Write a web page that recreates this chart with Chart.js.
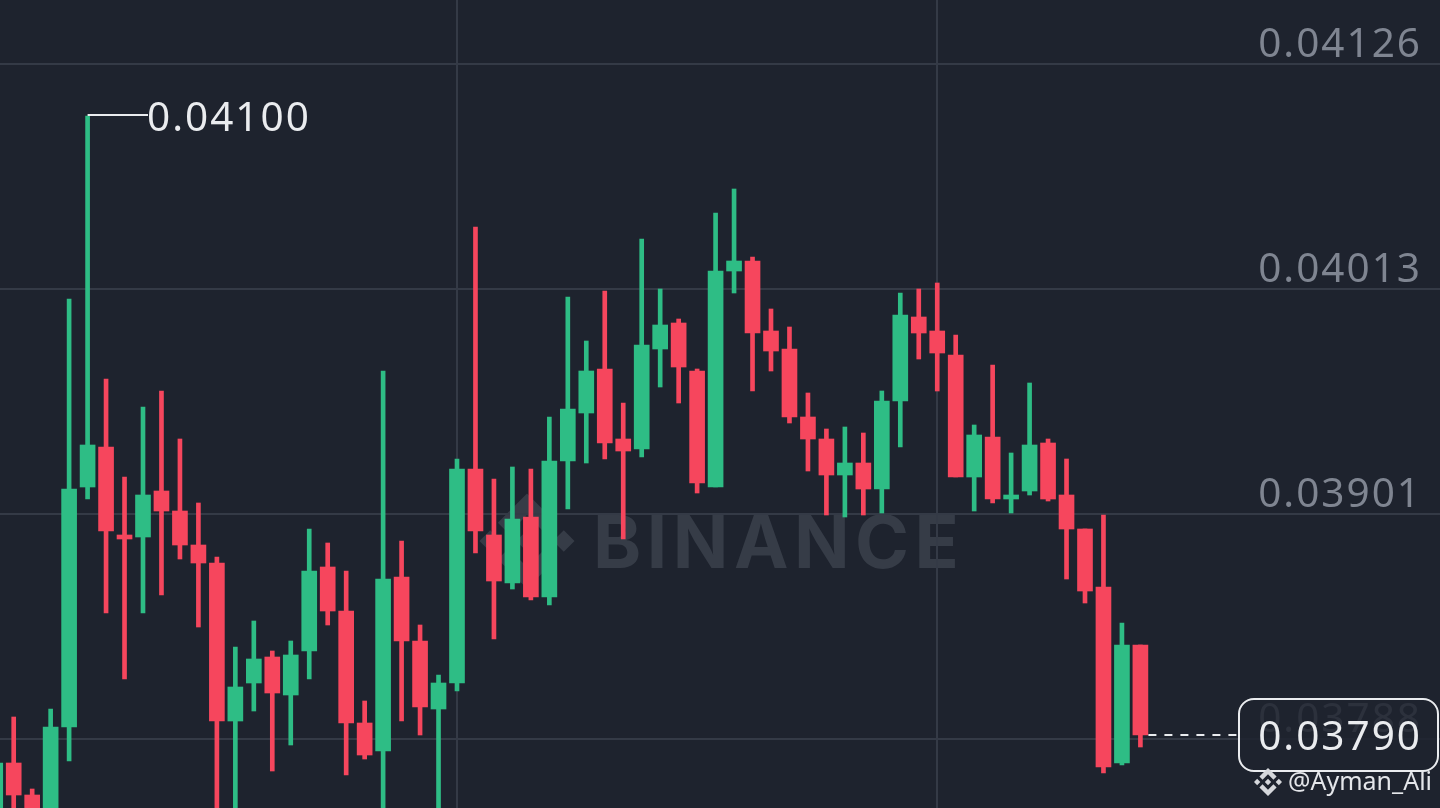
<!DOCTYPE html>
<html>
<head>
<meta charset="utf-8">
<title>Candles</title>
<script src="https://cdn.jsdelivr.net/npm/chart.js@4/dist/chart.umd.min.js"></script>
<style>
  html, body { margin: 0; padding: 0; background: #1e232e; overflow: hidden; }
  canvas { display: block; }
</style>
</head>
<body>
<canvas id="candles" width="1440" height="808"></canvas>
<script>
// candle values
const openPrices = [
  0.03743, 0.037765, 0.037605, 0.03743, 0.037945, 0.039145, 0.039345, 0.038905, 0.038895, 0.039125,
  0.039025, 0.038855, 0.038765, 0.037975, 0.038165, 0.038295, 0.038105, 0.038325, 0.038745, 0.038525,
  0.037965, 0.037825, 0.038695, 0.038375, 0.038035, 0.038165, 0.039235, 0.038905, 0.038665, 0.038995,
  0.038595, 0.039275, 0.039515, 0.039735, 0.039385, 0.039335, 0.039835, 0.039965, 0.039725, 0.039145,
  0.040225, 0.040275, 0.039925, 0.039835, 0.039495, 0.039385, 0.039205, 0.039265, 0.039135, 0.039575,
  0.039995, 0.039925, 0.039805, 0.039195, 0.039395, 0.039085, 0.039125, 0.039365, 0.039105, 0.038935,
  0.038645, 0.037765, 0.038355
];
const closePrices = [
  0.037765, 0.037605, 0.03743, 0.037945, 0.039135, 0.039355, 0.038925, 0.038885, 0.039105, 0.039025,
  0.038855, 0.038765, 0.037975, 0.038145, 0.038285, 0.038115, 0.038305, 0.038725, 0.038525, 0.037965,
  0.037805, 0.038685, 0.038375, 0.038045, 0.038165, 0.039235, 0.038925, 0.038675, 0.038985, 0.038595,
  0.039275, 0.039535, 0.039725, 0.039365, 0.039325, 0.039855, 0.039955, 0.039745, 0.039165, 0.040225,
  0.040275, 0.039915, 0.039825, 0.039495, 0.039385, 0.039205, 0.039265, 0.039135, 0.039575, 0.040005,
  0.039915, 0.039815, 0.039195, 0.039405, 0.039085, 0.039105, 0.039355, 0.039085, 0.038935, 0.038625,
  0.037745, 0.038355, 0.037905
];
const highPrices = [
  0.037855, 0.037995, 0.037635, 0.038035, 0.040085, 0.041, 0.039685, 0.039195, 0.039545, 0.039625,
  0.039385, 0.039065, 0.038795, 0.038345, 0.038475, 0.038325, 0.038375, 0.038935, 0.038865, 0.038725,
  0.038075, 0.039725, 0.038875, 0.038455, 0.038205, 0.039285, 0.040445, 0.039185, 0.039245, 0.039235,
  0.039495, 0.040095, 0.039875, 0.040125, 0.039565, 0.040385, 0.040135, 0.039985, 0.039735, 0.040515,
  0.040635, 0.040295, 0.040035, 0.039945, 0.039615, 0.039435, 0.039445, 0.039415, 0.039625, 0.040115,
  0.040135, 0.040165, 0.039905, 0.039455, 0.039755, 0.039315, 0.039665, 0.039385, 0.039285, 0.038935,
  0.039005, 0.038465, 0.038355
];
const lowPrices = [
  0.03738, 0.037505, 0.03738, 0.03738, 0.037775, 0.039085, 0.038515, 0.038185, 0.038515, 0.038605,
  0.038785, 0.038445, 0.03743, 0.03743, 0.038025, 0.037725, 0.037855, 0.038185, 0.038455, 0.037705,
  0.037785, 0.03743, 0.037975, 0.037905, 0.03743, 0.038125, 0.038815, 0.038385, 0.038635, 0.03858,
  0.038555, 0.039035, 0.039265, 0.039285, 0.038885, 0.039295, 0.039645, 0.039565, 0.039115, 0.039145,
  0.040115, 0.039625, 0.039725, 0.039465, 0.039225, 0.039005, 0.038995, 0.039005, 0.039015, 0.039345,
  0.039785, 0.039625, 0.039195, 0.039025, 0.039065, 0.039015, 0.039105, 0.039075, 0.038685, 0.038565,
  0.037715, 0.037755, 0.037845
];
const priceTicks = [0.04126, 0.040135, 0.03901, 0.037885];
const priceTickLabels = ["0.04126", "0.04013", "0.03901", "0.03788"];
const timeTicks = [25, 51];
const highLabel = "0.04100";
const lastLabel = "0.03790";
const handle = "@Ayman_Ali";

const bg = "#1e232e";
const green = "#2ebd85";
const red = "#f6465d";
const candleIndex = openPrices.map((_, i) => i);
const candleColors = candleIndex.map(i => closePrices[i] >= openPrices[i] ? green : red);

// binance mark, unit coords
function drawMark(ctx, cx, cy, r, color) {
  const diamond = (x, y, s) => {
    ctx.moveTo(cx + x * r, cy + (y - s) * r);
    ctx.lineTo(cx + (x + s) * r, cy + y * r);
    ctx.lineTo(cx + x * r, cy + (y + s) * r);
    ctx.lineTo(cx + (x - s) * r, cy + y * r);
    ctx.closePath();
  };
  const chevron = dir => {
    const pts = [[-0.388, -0.16], [0, -0.547], [0.388, -0.16], [0.614, -0.386], [0, -1], [-0.614, -0.386]];
    pts.forEach((p, i) => {
      const px = cx + p[0] * r, py = cy + dir * p[1] * r;
      if (i === 0) ctx.moveTo(px, py); else ctx.lineTo(px, py);
    });
    ctx.closePath();
  };
  ctx.fillStyle = color;
  ctx.beginPath();
  diamond(0, 0, 0.226);
  diamond(-0.774, 0, 0.226);
  diamond(0.774, 0, 0.226);
  chevron(1);
  chevron(-1);
  ctx.fill();
}

const backdrop = {
  id: "backdrop",
  beforeDraw(chart) {
    const ctx = chart.ctx;
    ctx.save();
    ctx.fillStyle = bg;
    ctx.fillRect(0, 0, chart.width, chart.height);
    drawMark(ctx, 527, 541, 47.5, "#363c47");
    ctx.fillStyle = "#363c47";
    ctx.font = "bold 73px Inter";
    ctx.letterSpacing = "5.5px";
    ctx.textAlign = "left";
    ctx.textBaseline = "alphabetic";
    ctx.fillText("BINANCE", 593, 568);
    ctx.restore();
    // tick labels pick this up too
    ctx.letterSpacing = "2px";
  }
};

const annotations = {
  id: "annotations",
  afterDatasetsDraw(chart) {
    const { ctx, scales: { x, y } } = chart;
    ctx.save();

    // high marker
    const hi = highPrices.indexOf(Math.max(...highPrices));
    const hiY = y.getPixelForValue(highPrices[hi]) - 1;
    ctx.strokeStyle = "#eaecef";
    ctx.lineWidth = 2;
    ctx.beginPath();
    ctx.moveTo(x.getPixelForValue(hi), hiY);
    ctx.lineTo(148, hiY);
    ctx.stroke();
    ctx.fillStyle = "#eaecef";
    ctx.font = "40.5px 'Noto Sans'";
    ctx.letterSpacing = "2px";
    ctx.textAlign = "left";
    ctx.textBaseline = "middle";
    ctx.fillText(highLabel, 147, hiY + 4);

    // last price line and box
    const last = closePrices.length - 1;
    const lastY = y.getPixelForValue(closePrices[last]);
    ctx.setLineDash([8, 8]);
    ctx.beginPath();
    ctx.moveTo(x.getPixelForValue(last) + 8, lastY);
    ctx.lineTo(1238, lastY);
    ctx.stroke();
    ctx.setLineDash([]);
    ctx.beginPath();
    ctx.roundRect(1239, 699, 199, 72, 15);
    ctx.fillStyle = "rgba(30,35,46,0.86)";
    ctx.fill();
    ctx.stroke();
    ctx.fillStyle = "#eaecef";
    ctx.textAlign = "right";
    ctx.fillText(lastLabel, 1422, 738);

    // handle
    ctx.letterSpacing = "0px";
    drawMark(ctx, 1268, 782, 14, "#d5d7db");
    ctx.font = "25px 'Noto Sans'";
    ctx.textAlign = "left";
    ctx.textBaseline = "alphabetic";
    ctx.fillStyle = "#e4e6ea";
    ctx.fillText(handle, 1288, 790);
    ctx.restore();
  }
};

const noMargins = s => {
  s.paddingTop = 0;
  s.paddingBottom = 0;
  s.paddingLeft = 0;
  s.paddingRight = 0;
};

const ctx = document.getElementById("candles").getContext("2d");
new Chart(ctx, {
  type: "bar",
  data: {
    datasets: [
      {
        label: "Body",
        data: candleIndex.map(i => ({ x: i, y: [openPrices[i], closePrices[i]] })),
        backgroundColor: candleColors,
        barThickness: 15,
        grouped: false
      },
      {
        label: "Wick",
        data: candleIndex.map(i => ({ x: i, y: [lowPrices[i], highPrices[i]] })),
        backgroundColor: candleColors,
        barThickness: 4,
        grouped: false
      }
    ]
  },
  options: {
    responsive: false,
    animation: false,
    layout: { padding: 0 },
    plugins: { legend: { display: false }, tooltip: { enabled: false } },
    scales: {
      x: {
        type: "linear",
        min: 0.258,
        max: 78.22,
        offset: false,
        afterBuildTicks: s => { s.ticks = timeTicks.map(v => ({ value: v })); },
        afterFit: s => { s.height = 0; noMargins(s); },
        ticks: { display: false },
        border: { display: false },
        grid: { color: "#343a46", lineWidth: 2, drawTicks: false, offset: false }
      },
      y: {
        position: "right",
        min: 0.03754,
        max: 0.04158,
        afterBuildTicks: s => { s.ticks = priceTicks.map(v => ({ value: v })); },
        afterFit: s => { s.width = 0; noMargins(s); },
        ticks: {
          mirror: true,
          padding: -18,
          labelOffset: -19,
          color: "#7f8591",
          font: { family: "'Noto Sans'", size: 40.5 },
          callback: (v, i) => priceTickLabels[i]
        },
        border: { display: false },
        grid: { color: "#343a46", lineWidth: 2, drawTicks: false }
      }
    }
  },
  plugins: [backdrop, annotations]
});
</script>
</body>
</html>
